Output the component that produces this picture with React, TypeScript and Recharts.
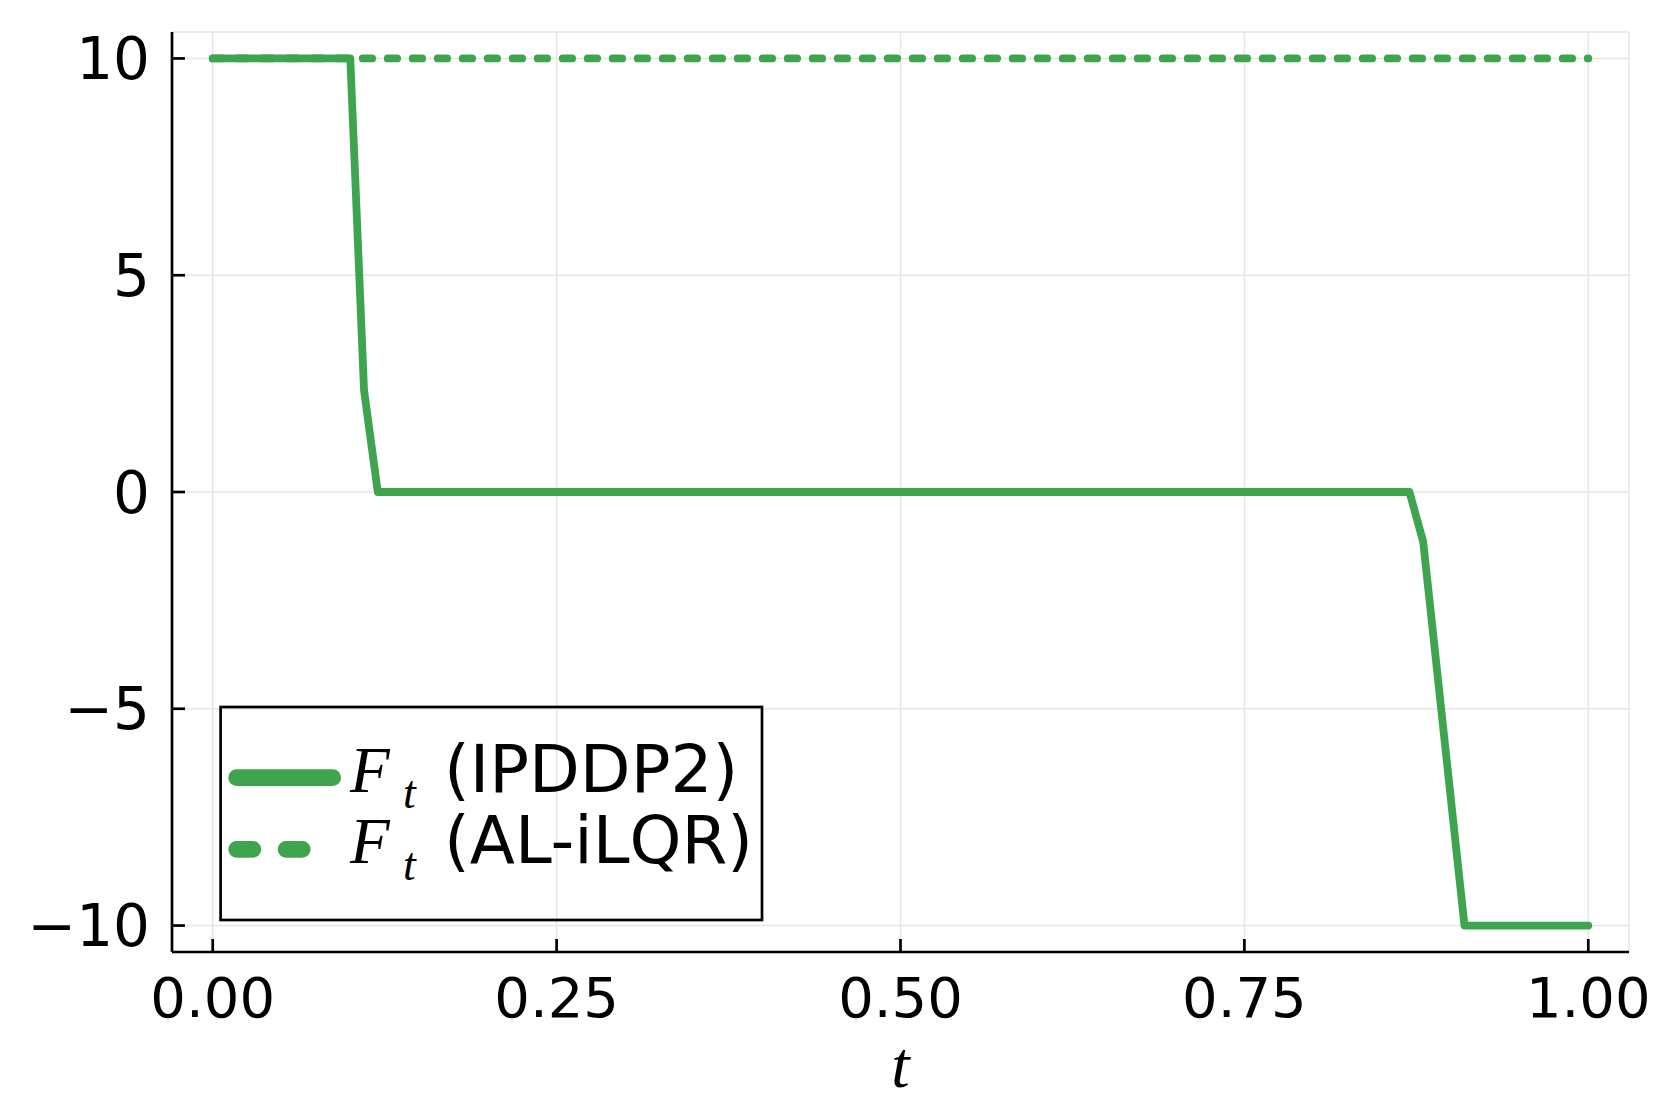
import React from 'react';
import { LineChart, Line, XAxis, YAxis, CartesianGrid, Legend, Label } from 'recharts';

// ---- data ----
const tIpddp = [0, 0.1, 0.11, 0.12, 0.87, 0.88, 0.91, 1.0];
const fIpddp = [10, 10, 2.35, 0, 0, -1.15, -10, -10];
const tAlilqr = [0, 1.0];
const fAlilqr = [10, 10];

const xTicks = [0, 0.25, 0.5, 0.75, 1.0];
const xTickLabels = ['0.00', '0.25', '0.50', '0.75', '1.00'];
const yTicks = [-10, -5, 0, 5, 10];
const yTickLabels = ['\u221210', '\u22125', '0', '5', '10'];

const seriesNames = ['(IPDDP2)', '(AL-iLQR)'];
const GREEN = '#3EA44E';
const lineDash = [undefined, '9.4 15.6'];
const legendDash = [undefined, '16.3 33.1'];

const ipddpData = tIpddp.map((t, i) => ({ t, F: fIpddp[i] }));
const alilqrData = tAlilqr.map((t, i) => ({ t, F: fAlilqr[i] }));

const fmtX = (v: number) => {
  const i = xTicks.indexOf(v);
  return i >= 0 ? xTickLabels[i] : String(v);
};
const fmtY = (v: number) => {
  const i = yTicks.indexOf(v);
  return i >= 0 ? yTickLabels[i] : String(v);
};

function renderLegend(props: any) {
  const payload = [...(props.payload || [])].sort(
    (a: any, b: any) => seriesNames.indexOf(a.value) - seriesNames.indexOf(b.value)
  );
  return (
    <svg width={546} height={218} style={{ display: 'block', overflow: 'visible' }}>
      <rect x={1.6} y={2} width={541.4} height={213} fill="none" stroke="#000" strokeWidth={2.7} />
      {payload.map((entry: any, i: number) => {
        const si = seriesNames.indexOf(entry.value);
        const cy = 72.7 + i * 71.6;
        const by = 86.7 + i * 71.6;
        return (
          <g key={i}>
            <line
              x1={17.6}
              x2={113.7}
              y1={cy}
              y2={cy}
              stroke={entry.color || GREEN}
              strokeWidth={16.7}
              strokeLinecap="round"
              strokeDasharray={legendDash[si]}
            />
            <text x={131} y={by} fontFamily="Liberation Serif" fontStyle="italic" fontSize={65} fill="#000">
              F
            </text>
            <text x={184} y={by + 16.3} fontFamily="Liberation Serif" fontStyle="italic" fontSize={46} fill="#000">
              t
            </text>
            <text x={225} y={by} fontFamily="DejaVu Sans" fontSize={66} fill="#000">
              {entry.value}
            </text>
          </g>
        );
      })}
    </svg>
  );
}

function renderXLabel(props: any) {
  const vb = props.viewBox || {};
  const cx = vb.x + vb.width / 2;
  return (
    <text
      x={cx}
      y={vb.y + 135}
      textAnchor="middle"
      fontFamily="Liberation Serif"
      fontStyle="italic"
      fontSize={66}
      fill="#000"
    >
      t
    </text>
  );
}

export default function App() {
  return (
    <div style={{ position: 'absolute', left: 0, top: 0, width: 1661, height: 1107, background: '#fff' }}>
      <LineChart width={1661} height={1107} margin={{ top: 32, right: 32, bottom: 0, left: 0 }}>
        <CartesianGrid stroke="#e6e6e6" strokeWidth={1.5} />
        <XAxis
          type="number"
          dataKey="t"
          domain={[-0.0296, 1.0296]}
          ticks={xTicks}
          tickFormatter={fmtX}
          height={155}
          tickSize={-13}
          tickMargin={38}
          axisLine={{ stroke: '#000', strokeWidth: 2.7 }}
          tickLine={{ stroke: '#000', strokeWidth: 2.7 }}
          tick={{ fill: '#000', fontSize: 56, fontFamily: 'DejaVu Sans' }}
          interval={0}
          allowDataOverflow
        >
          <Label content={renderXLabel} />
        </XAxis>
        <YAxis
          type="number"
          domain={[-10.61, 10.61]}
          ticks={yTicks}
          tickFormatter={fmtY}
          width={172}
          tickSize={-13}
          tickMargin={35}
          axisLine={{ stroke: '#000', strokeWidth: 2.7 }}
          tickLine={{ stroke: '#000', strokeWidth: 2.7 }}
          tick={{ fill: '#000', fontSize: 58, fontFamily: 'DejaVu Sans' }}
          interval={0}
          allowDataOverflow
        />
        <Legend
          layout="vertical"
          align="center"
          verticalAlign="middle"
          itemSorter={null as any}
          content={renderLegend}
          wrapperStyle={{ left: 219, top: 705, right: 'auto', bottom: 'auto', width: 546, height: 218 }}
        />
        <Line
          data={ipddpData}
          dataKey="F"
          name={seriesNames[0]}
          type="linear"
          stroke={GREEN}
          strokeWidth={7.8}
          strokeLinecap="round"
          strokeLinejoin="round"
          strokeDasharray={lineDash[0]}
          dot={false}
          activeDot={false}
          isAnimationActive={false}
        />
        <Line
          data={alilqrData}
          dataKey="F"
          name={seriesNames[1]}
          type="linear"
          stroke={GREEN}
          strokeWidth={7.8}
          strokeLinecap="round"
          strokeLinejoin="round"
          strokeDasharray={lineDash[1]}
          dot={false}
          activeDot={false}
          isAnimationActive={false}
        />
      </LineChart>
    </div>
  );
}
